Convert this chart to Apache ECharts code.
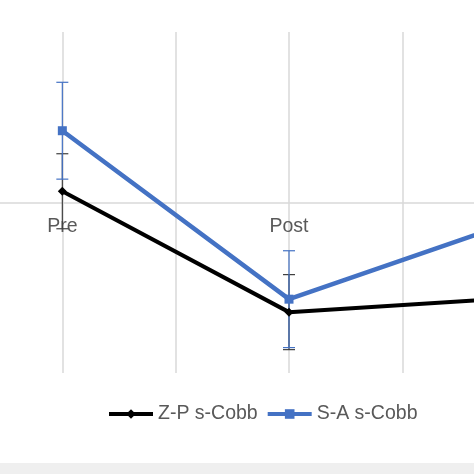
<!DOCTYPE html>
<html>
<head>
<meta charset="utf-8">
<script src="https://cdn.jsdelivr.net/npm/echarts@6/dist/echarts.min.js"></script>
<style>
  html, body { margin: 0; padding: 0; background: #efefef; }
  #main { width: 474px; height: 463px; background: #fff; }
</style>
</head>
<body>
<div id="main"></div>
<script>
// time points (only Pre and Post are inside the crop)
var categories = ['Pre', 'Post', 'Final'];
var zpValues = [0.66, -6.43, -5.6];
var saValues = [4.21, -5.67, -1.09];
var zpErrors = [2.2, 2.2, 2.2];
var saErrors = [2.84, 2.84, 2.84];

// every time point sits two grid columns apart
function pts(vals) {
    return vals.map(function (v, i) { return [i * 2, v]; });
}
function bars(vals, errs) {
    return vals.map(function (v, i) { return [i * 2, v - errs[i], v + errs[i]]; });
}

function errorBar(color) {
    return function (params, api) {
        var lo = api.coord([api.value(0), api.value(1)]);
        var hi = api.coord([api.value(0), api.value(2)]);
        var cap = 6;
        var style = { stroke: color, lineWidth: 1.2 };
        return {
            type: 'group',
            children: [
                { type: 'line', shape: { x1: lo[0], y1: lo[1], x2: hi[0], y2: hi[1] }, style: style },
                { type: 'line', shape: { x1: lo[0] - cap, y1: lo[1], x2: lo[0] + cap, y2: lo[1] }, style: style },
                { type: 'line', shape: { x1: hi[0] - cap, y1: hi[1], x2: hi[0] + cap, y2: hi[1] }, style: style }
            ]
        };
    };
}

var myChart = echarts.init(document.getElementById('main'));
var option = {
    animation: false,
    textStyle: { fontFamily: 'Liberation Sans, Arial, sans-serif' },
    legend: {
        data: ['Z-P s-Cobb', 'S-A s-Cobb'],
        left: 107,
        top: 404,
        padding: 0,
        itemWidth: 44,
        itemHeight: 12,
        itemGap: 8,
        lineStyle: { width: 4 },
        textStyle: { fontSize: 19.5, color: '#595959' }
    },
    grid: {
        left: -51,
        right: -155,
        top: 32,
        bottom: 90,
        containLabel: false,
        outerBoundsMode: 'none'
    },
    xAxis: {
        type: 'value',
        min: -1,
        max: 5,
        interval: 1,
        axisLine: { onZero: true, lineStyle: { color: '#d9d9d9', width: 1.5 } },
        axisTick: { show: false },
        splitLine: { show: true, lineStyle: { color: '#d9d9d9', width: 1.5 } },
        axisLabel: {
            margin: -156,
            fontSize: 19.5,
            color: '#595959',
            formatter: function (v) {
                return v % 2 === 0 && v >= 0 ? (categories[v / 2] || '') : '';
            }
        }
    },
    yAxis: {
        type: 'value',
        min: -10,
        max: 10,
        axisLine: { show: false },
        axisTick: { show: false },
        axisLabel: { show: false },
        splitLine: { show: false }
    },
    series: [
        {
            name: 'zp-err',
            type: 'custom',
            renderItem: errorBar('#404040'),
            data: bars(zpValues, zpErrors),
            z: 1
        },
        {
            name: 'sa-err',
            type: 'custom',
            renderItem: errorBar('#4472c4'),
            data: bars(saValues, saErrors),
            z: 2
        },
        {
            name: 'Z-P s-Cobb',
            type: 'line',
            data: pts(zpValues),
            color: '#000000',
            lineStyle: { width: 4, color: '#000000' },
            symbol: 'diamond',
            symbolSize: 9,
            itemStyle: { color: '#000000' },
            z: 3
        },
        {
            name: 'S-A s-Cobb',
            type: 'line',
            data: pts(saValues),
            color: '#4472c4',
            lineStyle: { width: 4.5, color: '#4472c4' },
            symbol: 'rect',
            symbolSize: 9,
            itemStyle: { color: '#4472c4' },
            z: 4
        }
    ]
};
myChart.setOption(option);
</script>
</body>
</html>
